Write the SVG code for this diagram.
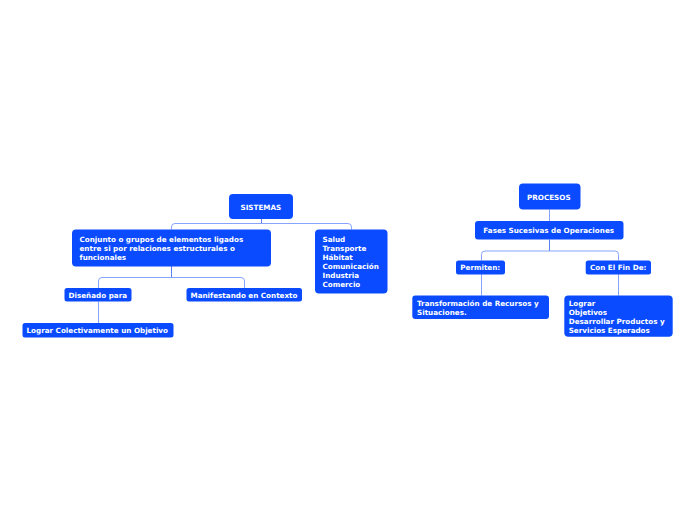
<svg xmlns="http://www.w3.org/2000/svg" width="696" height="520" viewBox="0 0 696 520">
<style>
.n{fill:#0a4bff;}
.t{fill:#ffffff;font-family:"DejaVu Sans",Verdana,sans-serif;font-weight:bold;font-size:7.2px;}
.c{fill:none;stroke:#86a4ff;stroke-width:1;}
.v{fill:none;stroke:#5b80f0;stroke-width:1;}
</style>
<rect width="696" height="520" fill="#ffffff"/>
<g id="connectors">
<path class="v" d="M261.5,219 V223.5"/>
<path class="c" d="M171.5,229.5 V227 Q171.5,223.5 175,223.5 H348 Q351.5,223.5 351.5,227 V229.5"/>
<path class="v" d="M171.5,266 V277.5"/>
<path class="c" d="M98.5,288 V281 Q98.5,277.5 102,277.5 H241 Q244.5,277.5 244.5,281 V288"/>
<path class="c" d="M98.5,301.5 V323"/>
<path class="c" d="M549.5,209.5 V221"/>
<path class="v" d="M549.5,239.5 V251"/>
<path class="c" d="M481.5,260.5 V254.5 Q481.5,251 485,251 H615 Q618.5,251 618.5,254.5 V260.5"/>
<path class="c" d="M481.5,274 V295.5"/>
<path class="c" d="M618.5,274 V295.5"/>
</g>
<g id="sistemas">
<rect class="n" x="229" y="194" width="64" height="25" rx="4"/>
<text class="t" x="240.5" y="209.5">SISTEMAS</text>
</g>
<g id="conjunto">
<rect class="n" x="72" y="229.5" width="199" height="37" rx="4"/>
<text class="t" x="79.5" y="241.8">Conjunto o grupos de elementos ligados</text>
<text class="t" x="79.5" y="250.8">entre si por relaciones estructurales o</text>
<text class="t" x="79.5" y="259.8">funcionales</text>
</g>
<g id="sectores">
<rect class="n" x="315" y="229.5" width="72.5" height="64" rx="4"/>
<text class="t" x="322.5" y="241.8">Salud</text>
<text class="t" x="322.5" y="250.8">Transporte</text>
<text class="t" x="322.5" y="259.8">Hábitat</text>
<text class="t" x="322.5" y="268.8">Comunicación</text>
<text class="t" x="322.5" y="277.8">Industria</text>
<text class="t" x="322.5" y="286.8">Comercio</text>
</g>
<g id="disenado">
<rect class="n" x="64.5" y="288" width="67" height="13.5" rx="2.5"/>
<text class="t" x="68.5" y="297.6">Diseñado para</text>
</g>
<g id="manifestando">
<rect class="n" x="186.5" y="288" width="115.5" height="13.5" rx="2.5"/>
<text class="t" x="190.5" y="297.6">Manifestando en Contexto</text>
</g>
<g id="lograr-colectivamente">
<rect class="n" x="22.5" y="323" width="151" height="14.5" rx="2.5"/>
<text class="t" x="26.5" y="333.1">Lograr Colectivamente un Objetivo</text>
</g>
<g id="procesos">
<rect class="n" x="519" y="183.5" width="61.5" height="26" rx="4"/>
<text class="t" x="527" y="200">PROCESOS</text>
</g>
<g id="fases">
<rect class="n" x="475" y="221" width="148.5" height="18.5" rx="3"/>
<text class="t" x="483.3" y="232.8">Fases Sucesivas de Operaciones</text>
</g>
<g id="permiten">
<rect class="n" x="456" y="260.5" width="49" height="14" rx="2.5"/>
<text class="t" x="460.3" y="270.4">Permiten:</text>
</g>
<g id="con-el-fin">
<rect class="n" x="585.7" y="260.5" width="65.3" height="14" rx="2.5"/>
<text class="t" x="590" y="270.4">Con El Fin De:</text>
</g>
<g id="transformacion">
<rect class="n" x="412.3" y="295.5" width="136.7" height="23.5" rx="3"/>
<text class="t" x="417" y="305.8">Transformación de Recursos y</text>
<text class="t" x="417" y="314.8">Situaciones.</text>
</g>
<g id="logros">
<rect class="n" x="564.3" y="295.5" width="108.4" height="41.2" rx="4"/>
<text class="t" x="568.7" y="305.8">Lograr</text>
<text class="t" x="568.7" y="314.8">Objetivos</text>
<text class="t" x="568.7" y="323.8">Desarrollar Productos y</text>
<text class="t" x="568.7" y="332.8">Servicios Esperados</text>
</g>
</svg>
